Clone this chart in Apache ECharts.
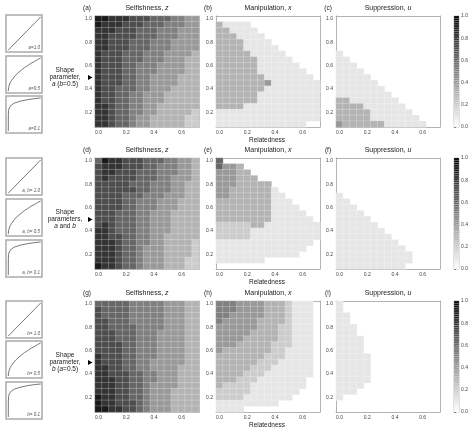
<!DOCTYPE html>
<html>
<head>
<meta charset="utf-8">
<script src="https://cdn.jsdelivr.net/npm/echarts@6/dist/echarts.min.js"></script>
<style>
html, body { margin: 0; padding: 0; background: #fff; }
#chart { width: 474px; height: 437px; }
</style>
</head>
<body>
<div id="chart"></div>
<script>
// axis categories: relatedness (x) and the y grid of each panel
const relatedness = ['0.0','0.05','0.1','0.15','0.2','0.25','0.3','0.35','0.4','0.45','0.5','0.55','0.6','0.65','0.7'];
const yLevels = ['0.1','0.15','0.2','0.25','0.3','0.35','0.4','0.45','0.5','0.55','0.6','0.65','0.7','0.75','0.8','0.85','0.9','0.95','1.0'];
const barTicks = [0, 0.2, 0.4, 0.6, 0.8, 1.0];

// cell values, one string per row from y=1.0 down to y=0.1
// digit = value*10, '.' = no cell
const selfishA = [
  '998887776665544','988877766655544','888777666555444','887777666555444',
  '887776665554444','887776665554444','877766655544443','877766655544433',
  '877766555444433','877766555444433','877766554444333','877766554444333',
  '877666554443333','877665544433333','877665544433333','887665544333333',
  '887665544333332','887665443333322','887665443333322'
];
const manipB = [
  '...............','31111..........','331111.........','3331111........',
  '33331111.......','333311111......','3333311111.....','33333311111....',
  '333333111111...','3333331111111..','33333331111111.','333333341111111',
  '333333311111111','333333111111111','333333111111111','333311111111111',
  '111111111111111','111111111111111','1111111111111..'
];
const suppC = [
  '...............','...............','...............','...............',
  '...............','...............','1..............','11.............',
  '111............','1111...........','11111..........','111111.........',
  '1111111........','11111111.......','331111111......','3333111111.....',
  '33333111111....','333331111111...','4333333111111..'
];
const selfishD = [
  '698877766655443','788877766555443','788777666555443','787777666554443',
  '777776665554433','777777665554433','777766655544433','777766555444333',
  '777766555444333','777666554443333','777666554443333','787666554443333',
  '887666554443333','887766554433333','888766554433332','888766544433332',
  '888766544433332','888766544433322','988766544433322'
];
const manipE = [
  '6..............','6443...........','44433..........','444333.........',
  '44433333.......','443333331......','4433333311.....','33333333111....',
  '333333331111...','3333333311111..','33333333111111.','222223311111111',
  '222221111111111','222221111111111','11111111111111.','1111111111111..',
  '111111111111...','1111111........','...............'
];
const suppF = [
  '...............','...............','...............','...............',
  '...............','...............','1..............','11.............',
  '111............','1111...........','11111..........','111111.........',
  '1111111........','11111111.......','111111111......','1111111111.....',
  '11111111111....','11111111111....','1111111111.....'
];
const selfishG = [
  '666665555544433','766665555544433','766665555544433','776665555544433',
  '776666555544433','777666555444433','777666555444433','777766555444433',
  '777766555444433','877766555444433','877766554444433','887766554444333',
  '887776655444333','888776655444333','888776654444333','888776654443333',
  '988776654443333','988777654443333','998877654443333'
];
const manipH = [
  '55544443332111.','55544443332111.','55444443332111.','54444433332111.',
  '44444433322111.','44444333322111.','44443333322111.','44433333222111.',
  '43333333221111.','33333332221111.','33333322211111.','33333222111111.',
  '33332221111111.','3332221111111..','3222211111111..','222221111111...',
  '22221111111....','111111111......','1111...........'
];
const suppI = [
  '1..............','1..............','11.............','11.............',
  '111............','111............','1111...........','1111...........',
  '1111...........','11111..........','11111..........','11111..........',
  '11111..........','11111..........','1111...........','111............',
  '1..............','...............','...............'
];

// shape curves in the small boxes on the left
const curveOne = [[0, 0], [1, 1]];
const curveHalf = [[0,0],[0.01,0.1],[0.03,0.18],[0.06,0.25],[0.1,0.32],[0.2,0.45],[0.3,0.55],[0.4,0.63],[0.5,0.71],[0.6,0.77],[0.7,0.84],[0.8,0.89],[0.9,0.95],[1,1]];
const curveTenth = [[0,0],[0.003,0.5],[0.01,0.62],[0.03,0.7],[0.06,0.75],[0.1,0.79],[0.2,0.85],[0.4,0.91],[0.6,0.95],[0.8,0.98],[1,1]];

const panelLetters = [['(a)','(b)','(c)'],['(d)','(e)','(f)'],['(g)','(h)','(i)']];
const panelTitles = ['{n|Selfishness, }{i|z}', '{n|Manipulation, }{i|x}', '{n|Suppression, }{i|u}'];
const boxLabels = [['a=1.0','a=0.5','a=0.1'],['a, b= 1.0','a, b= 0.5','a, b= 0.1'],['b= 1.0','b= 0.5','b= 0.1']];
const sideLabels = [
  '{n|Shape}\n{n|parameter,}\n{i|a}{n| (}{i|b}{n|=0.5)}',
  '{n|Shape}\n{n|parameters,}\n{i|a}{n| and }{i|b}',
  '{n|Shape}\n{n|parameter,}\n{i|b}{n| (}{i|a}{n|=0.5)}'
];

const panels = [[selfishA, manipB, suppC], [selfishD, manipE, suppF], [selfishG, manipH, suppI]];
const rowTops = [16, 158, 301];
const colLefts = [95, 216, 336];
const boxTops = [[15, 56, 96], [158, 199, 240], [301, 341, 382]];
const FONT = '"Liberation Sans", Arial, sans-serif';

function toCells(rows) {
  const out = [];
  rows.forEach((s, r) => {
    for (let c = 0; c < s.length; c++) {
      if (s[c] !== '.') out.push([c, yLevels.length - 1 - r, Number(s[c]) / 10]);
    }
  });
  return out;
}

const grid = [], xAxis = [], yAxis = [], series = [], graphic = [];
const mappedSeries = [];
const frame = '#a0a0a0';
const yShow = (idx) => (idx - 2) % 4 === 0;

// heatmap panels
for (let r = 0; r < 3; r++) {
  for (let c = 0; c < 3; c++) {
    const g = grid.length;
    grid.push({ left: colLefts[c], top: rowTops[r], width: 104, height: 111 });
    const xi = xAxis.length, yi = yAxis.length;
    xAxis.push({
      type: 'category', gridIndex: g, data: relatedness, position: 'bottom',
      axisLine: { lineStyle: { color: frame, width: 0.8 } },
      axisTick: { interval: 3, alignWithLabel: true, length: 2, lineStyle: { color: '#777' } },
      axisLabel: { interval: 3, fontSize: 5, color: '#444', margin: 3, fontFamily: FONT },
      splitLine: { show: false }
    });
    xAxis.push({
      type: 'category', gridIndex: g, data: relatedness, position: 'top',
      axisLine: { lineStyle: { color: frame, width: 0.8 } },
      axisTick: { interval: 3, alignWithLabel: true, inside: true, length: 2, lineStyle: { color: '#999' } },
      axisLabel: { show: false }
    });
    yAxis.push({
      type: 'category', gridIndex: g, data: yLevels, position: 'left',
      axisLine: { lineStyle: { color: frame, width: 0.8 } },
      axisTick: { interval: yShow, alignWithLabel: true, length: 2, lineStyle: { color: '#777' } },
      axisLabel: { interval: yShow, fontSize: 5, color: '#444', margin: 3, fontFamily: FONT },
      splitLine: { show: false }
    });
    yAxis.push({
      type: 'category', gridIndex: g, data: yLevels, position: 'right',
      axisLine: { lineStyle: { color: frame, width: 0.8 } },
      axisTick: { interval: yShow, alignWithLabel: true, inside: true, length: 2, lineStyle: { color: '#999' } },
      axisLabel: { show: false }
    });
    mappedSeries.push(series.length);
    series.push({
      type: 'heatmap', xAxisIndex: xi, yAxisIndex: yi, silent: true,
      data: toCells(panels[r][c]),
      itemStyle: { borderColor: 'rgba(255,255,255,0.45)', borderWidth: 0.5 },
      emphasis: { disabled: true }
    });

    graphic.push({
      type: 'text', x: colLefts[c] - 8, y: rowTops[r] - 8,
      style: { text: panelLetters[r][c], fontSize: 6.5, fill: '#222', fontFamily: FONT, align: 'center', verticalAlign: 'middle' }
    });
    graphic.push({
      type: 'text', x: colLefts[c] + 52, y: rowTops[r] - 8,
      style: {
        text: panelTitles[c], align: 'center', verticalAlign: 'middle',
        rich: {
          n: { fontSize: 7, fill: '#222', fontFamily: FONT },
          i: { fontSize: 7, fill: '#222', fontFamily: FONT, fontStyle: 'italic' }
        }
      }
    });
  }
  graphic.push({
    type: 'text', x: 267, y: rowTops[r] + 124,
    style: { text: 'Relatedness', fontSize: 6.5, fill: '#222', fontFamily: FONT, align: 'center', verticalAlign: 'middle' }
  });
}

// colour bars
const barBands = [];
for (let k = 0; k < 50; k++) barBands.push([k / 50, (k + 1) / 50, (k + 0.5) / 50]);
for (let r = 0; r < 3; r++) {
  const g = grid.length;
  grid.push({ left: 454, top: rowTops[r], width: 5, height: 111, show: true, borderColor: '#999', borderWidth: 0.6 });
  const xi = xAxis.length, yi = yAxis.length;
  xAxis.push({ type: 'value', gridIndex: g, min: 0, max: 1, show: false });
  yAxis.push({
    type: 'value', gridIndex: g, min: 0, max: 1, interval: 0.2, position: 'right',
    axisLine: { show: false },
    axisTick: { show: true, length: 2, lineStyle: { color: '#777' } },
    axisLabel: { fontSize: 5, color: '#444', margin: 2, fontFamily: FONT, formatter: (v) => v.toFixed(1) },
    splitLine: { show: false }
  });
  mappedSeries.push(series.length);
  series.push({
    type: 'custom', xAxisIndex: xi, yAxisIndex: yi, silent: true, data: barBands,
    renderItem: (params, api) => {
      const p0 = api.coord([0, api.value(0)]);
      const p1 = api.coord([1, api.value(1)]);
      return {
        type: 'rect',
        shape: { x: p0[0], y: p1[1], width: p1[0] - p0[0], height: p0[1] - p1[1] },
        style: { fill: api.visual('color'), stroke: 'rgba(255,255,255,0.5)', lineWidth: 0.3 }
      };
    }
  });
}

// small shape boxes and side labels
const curves = [curveOne, curveHalf, curveTenth];
for (let r = 0; r < 3; r++) {
  for (let k = 0; k < 3; k++) {
    const g = grid.length;
    grid.push({ left: 6, top: boxTops[r][k], width: 36, height: 37, show: true, borderColor: '#aaa', borderWidth: 1.5 });
    const xi = xAxis.length, yi = yAxis.length;
    xAxis.push({ type: 'value', gridIndex: g, min: -0.07, max: 1.04, show: false });
    yAxis.push({ type: 'value', gridIndex: g, min: -0.06, max: 1.06, show: false });
    series.push({
      type: 'line', xAxisIndex: xi, yAxisIndex: yi, silent: true, data: curves[k],
      showSymbol: false, lineStyle: { color: '#555', width: 0.8 }
    });
    graphic.push({
      type: 'text', x: 40, y: boxTops[r][k] + 33,
      style: { text: boxLabels[r][k], fontSize: 4.5, fill: '#555', fontStyle: 'italic', fontFamily: FONT, align: 'right', verticalAlign: 'middle' }
    });
  }
  graphic.push({
    type: 'text', x: 65, y: rowTops[r] + 61,
    style: {
      text: sideLabels[r], align: 'center', verticalAlign: 'middle',
      rich: {
        n: { fontSize: 6.5, lineHeight: 7, fill: '#222', fontFamily: FONT },
        i: { fontSize: 6.5, lineHeight: 7, fill: '#222', fontFamily: FONT, fontStyle: 'italic' }
      }
    }
  });
  graphic.push({
    type: 'polygon',
    shape: { points: [[88, rowTops[r] + 59], [88, rowTops[r] + 64], [92.5, rowTops[r] + 61.5]] },
    style: { fill: '#000' }
  });
}

const chart = echarts.init(document.getElementById('chart'));
chart.setOption({
  backgroundColor: '#fff',
  animation: false,
  grid, xAxis, yAxis, series, graphic,
  visualMap: {
    show: false, type: 'continuous', min: 0, max: 1, dimension: 2,
    seriesIndex: mappedSeries,
    inRange: { color: ['#ffffff', '#000000'] }
  }
});
</script>
</body>
</html>
